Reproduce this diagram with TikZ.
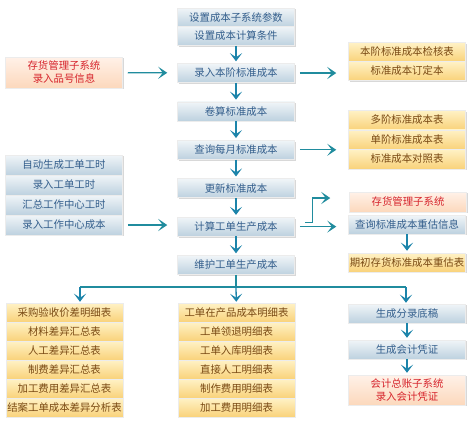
\documentclass[tikz,border=0pt]{standalone}
\usepackage{fontspec}
\setmainfont{Noto Sans CJK SC}
\usetikzlibrary{arrows.meta,shadows}
\definecolor{bluetop}{HTML}{F0F5F8}
\definecolor{bluebot}{HTML}{BDD1DF}
\definecolor{bluetext}{HTML}{335E8C}
\definecolor{yeltop}{HTML}{FFF2C6}
\definecolor{yelbot}{HTML}{F9D27A}
\definecolor{yeltext}{HTML}{7A4A14}
\definecolor{peachtop}{HTML}{FFF1E8}
\definecolor{peachbot}{HTML}{FCD8BC}
\definecolor{peachtext}{HTML}{D6232B}
\definecolor{arrcol}{HTML}{208C9E}
\definecolor{downcol}{HTML}{1C84AA}
\begin{document}
\begin{tikzpicture}[x=1pt,y=-1pt,
    box/.style={draw=white!85!gray,line width=0.5pt,minimum width=117pt,minimum height=19pt,
      inner sep=0pt,font=\fontsize{10.4}{13}\selectfont,
      drop shadow={shadow xshift=1pt,shadow yshift=-1.4pt,opacity=0.3}},
    bluebox/.style={box,top color=bluetop,bottom color=bluebot,text=bluetext},
    yellowbox/.style={box,top color=yeltop,bottom color=yelbot,text=yeltext},
    peachbox/.style={box,top color=peachtop,bottom color=peachbot,text=peachtext,align=center},
    harr/.style={draw=arrcol,line width=1.2pt,-{Stealth[length=9pt,width=12pt,inset=4.5pt]}},
    down/.style={draw=downcol,line width=1.6pt,-{Stealth[length=8pt,width=12pt,inset=4pt]}},
    bus/.style={draw=arrcol,line width=1.2pt}]
  \useasboundingbox[fill=white] (0,0) rectangle (474,424);

  \node[bluebox] (set1) at (236,17.5) {设置成本子系统参数};
  \node[bluebox] (set2) at (236,36) {设置成本计算条件};
  \node[bluebox] (in) at (236,73) {录入本阶标准成本};
  \node[bluebox] (roll) at (236,111.4) {卷算标准成本};
  \node[bluebox] (query) at (236,149.8) {查询每月标准成本};
  \node[bluebox] (update) at (236,188.2) {更新标准成本};
  \node[bluebox] (calc) at (236,226.6) {计算工单生产成本};
  \node[bluebox] (maint) at (236,265) {维护工单生产成本};

  \node[peachbox,minimum height=31pt] (inv) at (64,72.5) {存货管理子系统\\录入品号信息};
  \node[bluebox,minimum height=20pt] (wh1) at (64,165) {自动生成工单工时};
  \node[bluebox,minimum height=20pt] (wh2) at (64,185) {录入工单工时};
  \node[bluebox,minimum height=20pt] (wh3) at (64,205) {汇总工作中心工时};
  \node[bluebox,minimum height=20pt] (wh4) at (64,225) {录入工作中心成本};

  \node[yellowbox] (chk) at (407,52) {本阶标准成本检核表};
  \node[yellowbox] (fix) at (407,71) {标准成本订定本};
  \node[yellowbox,minimum height=19.5pt] (multi) at (407,120) {多阶标准成本表};
  \node[yellowbox,minimum height=19.5pt] (single) at (407,139.5) {单阶标准成本表};
  \node[yellowbox,minimum height=19.5pt] (cmp) at (407,159) {标准成本对照表};
  \node[peachbox,minimum height=20pt] (inv2) at (408,202) {存货管理子系统};
  \node[bluebox] (reval) at (407,224.5) {查询标准成本重估信息};
  \node[yellowbox] (open) at (407,262.5) {期初存货标准成本重估表};

  \node[yellowbox] (pv1) at (64.5,312.5) {采购验收价差明细表};
  \node[yellowbox] (pv2) at (64.5,331.5) {材料差异汇总表};
  \node[yellowbox] (pv3) at (64.5,350.5) {人工差异汇总表};
  \node[yellowbox] (pv4) at (64.5,369.5) {制费差异汇总表};
  \node[yellowbox] (pv5) at (64.5,388.5) {加工费用差异汇总表};
  \node[yellowbox] (pv6) at (64.5,407.5) {结案工单成本差异分析表};

  \node[yellowbox] (wp1) at (236.5,312.5) {工单在产品成本明细表};
  \node[yellowbox] (wp2) at (236.5,331.5) {工单领退明细表};
  \node[yellowbox] (wp3) at (236.5,350.5) {工单入库明细表};
  \node[yellowbox] (wp4) at (236.5,369.5) {直接人工明细表};
  \node[yellowbox] (wp5) at (236.5,388.5) {制作费用明细表};
  \node[yellowbox] (wp6) at (236.5,407.5) {加工费用明细表};

  \node[bluebox] (draft) at (407,313.5) {生成分录底稿};
  \node[bluebox] (voucher) at (407,349.5) {生成会计凭证};
  \node[peachbox,minimum height=30pt] (gl) at (407,390) {会计总账子系统\\录入会计凭证};

  \coordinate (bus) at (236,287);
  \coordinate (busl) at (80,287);
  \coordinate (busr) at (406,287);

  \begin{scope}[down,shorten >=2pt]
    \draw (set2) -- (in);
    \draw (in) -- (roll);
    \draw (roll) -- (query);
    \draw (query) -- (update);
    \draw (update) -- (calc);
    \draw (calc) -- (maint);
    \draw (reval) -- (open);
    \draw (draft) -- (voucher);
    \draw (voucher) -- (gl);
  \end{scope}
  \begin{scope}[harr,shorten <=5pt]
    \draw[shorten >=10pt] (inv) -- (in);
    \draw[shorten >=10pt] (wh4) -- (wh4 -| calc.west);
    \draw[shorten >=12pt] (in) -- (in -| fix.west);
    \draw[shorten >=12pt] (query) -- (query -| multi.west);
    \draw[shorten >=12pt] (calc.east) -- (calc.east -| reval.west);
    \draw ([xshift=5pt,yshift=4.5pt]calc.east) -- ++(13,0) |- ([xshift=-19pt,yshift=4pt]inv2.west);
  \end{scope}
  \draw[bus] (maint) -- (bus);
  \draw[bus] (busl) -- (busr);
  \begin{scope}[down,line width=1.3pt,shorten >=1pt]
    \draw (busl) -- (busl |- pv1.north);
    \draw (bus) -- (wp1);
    \draw (busr) -- (busr |- draft.north);
  \end{scope}
\end{tikzpicture}
\end{document}
